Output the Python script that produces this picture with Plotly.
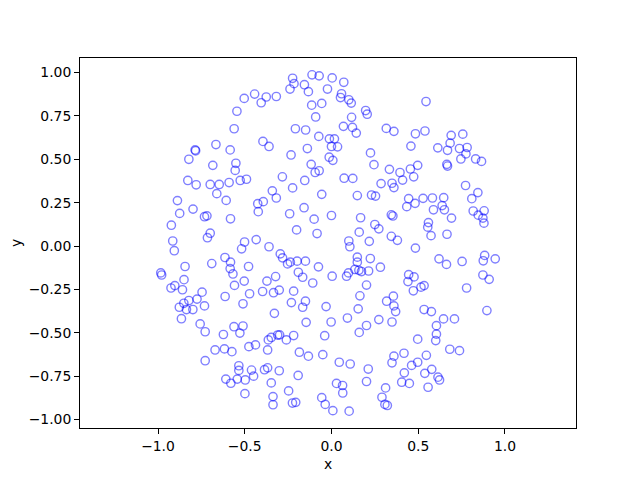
import plotly.graph_objects as go
import numpy as np

# Point positions
x_vals = [
    -0.443, -0.503, -0.405, -0.545, -0.561, -0.395, -0.666, -0.786, -0.783, -0.584,
    -0.822, -0.551, -0.684, -0.555, -0.828, -0.780, -0.699, -0.647, -0.590, -0.526,
    -0.490, -0.661, -0.888, -0.607, -0.425, -0.393, -0.422, -0.875, -0.798, -0.732,
    -0.718, -0.582, -0.923, -0.699, -0.715, -0.915, -0.906, -0.501, -0.518, -0.434,
    -0.614, -0.582, -0.690, -0.844, -0.584, -0.478, -0.568, -0.984, -0.979, -0.850,
    -0.503, -0.903, -0.925, -0.859, -0.559, -0.397, -0.746, -0.472, -0.613, -0.775,
    -0.822, -0.851, -0.732, -0.510, -0.877, -0.836, -0.799, -0.865, -0.757, -0.728,
    -0.623, -0.562, -0.510, -0.528, -0.476, -0.438, -0.671, -0.617, -0.574, -0.728,
    -0.534, -0.534, -0.461, -0.449, -0.609, -0.580, -0.543, -0.497, -0.499,
    -0.224, -0.216, -0.112, -0.071, 0.004, 0.071, -0.156, -0.239, -0.133, -0.023,
    0.058, 0.052, 0.100, 0.114, -0.376, -0.318, -0.114, -0.056, -0.091, 0.116,
    0.197, 0.206, -0.208, -0.149, 0.069, 0.121, 0.143, -0.073, -0.012, 0.017,
    -0.360, -0.139, 0.000, 0.035, -0.233, -0.013, 0.008, 0.225, 0.245, -0.117,
    -0.094, -0.071, -0.283, -0.154, 0.073, 0.123, 0.286,
    -0.341, -0.224, -0.056, 0.149, 0.231, 0.254, -0.318, -0.241, -0.158, 0.000,
    -0.100, 0.168, 0.250, 0.273, -0.201, -0.083, 0.160, -0.360, 0.100, 0.106,
    0.218, -0.295, -0.282, -0.253, -0.237, -0.198, -0.150, -0.075, 0.149, 0.149,
    0.224, 0.282, 0.135, 0.158, 0.173, 0.214, 0.087, 0.098, 0.004, -0.191,
    -0.166, -0.322, -0.372, -0.108, 0.202, -0.334, -0.301, -0.218, 0.164, -0.231,
    -0.150, -0.166, -0.031, 0.154,
    -0.329, -0.146, -0.002, 0.092, 0.202, 0.160, 0.273, -0.364, -0.347, -0.310,
    -0.299, -0.260, -0.218, -0.039, -0.368, -0.185, -0.133, -0.050, 0.045, 0.108,
    0.212, -0.386, -0.368, -0.301, -0.192, -0.347, 0.202, 0.029, 0.064, 0.065,
    -0.247, -0.337, -0.337, -0.225, -0.206, -0.056, -0.036, 0.008, 0.102, 0.291,
    0.545, 0.316, 0.360, 0.484, 0.539, 0.690, 0.757, 0.458, 0.613, 0.669,
    0.684, 0.738, 0.782, 0.775, 0.746, 0.831, 0.865, 0.665, 0.669, 0.334,
    0.395, 0.455, 0.497, 0.474, 0.410, 0.349,
    0.360, 0.773, 0.844, 0.445, 0.434, 0.482, 0.528, 0.582, 0.647, 0.638,
    0.651, 0.588, 0.809, 0.817, 0.846, 0.880, 0.873, 0.879, 0.692, 0.345,
    0.354, 0.559, 0.555, 0.574, 0.666, 0.345, 0.380, 0.484, 0.620, 0.663,
    0.753, 0.883, 0.875, 0.944, 0.445, 0.476, 0.441, 0.873, 0.909, 0.534,
    0.516, 0.472, 0.779, 0.357, 0.318, 0.360,
    0.370, 0.534, 0.576, 0.896, 0.349, 0.646, 0.709, 0.605, 0.605, 0.601,
    0.497, 0.682, 0.738, 0.360, 0.349, 0.418, 0.547, 0.497, 0.462, 0.578,
    0.538, 0.420, 0.614, 0.623, 0.405, 0.449, 0.557, 0.312, 0.308, 0.322,
]

y_vals = [
    0.876, 0.851, 0.826, 0.777, 0.676, 0.603, 0.585, 0.554, 0.549, 0.554,
    0.500, 0.477, 0.465, 0.436, 0.378, 0.353, 0.355, 0.355, 0.366, 0.378,
    0.385, 0.302, 0.262, 0.263, 0.244, 0.256, 0.198, 0.188, 0.213, 0.169,
    0.174, 0.157, 0.120, 0.074, 0.048, 0.029, -0.027, 0.023, -0.016, 0.037,
    -0.066, -0.093, -0.101, -0.118, -0.130, -0.118, -0.161, -0.155, -0.167, -0.194,
    -0.202, -0.228, -0.242, -0.252, -0.227, -0.262, -0.266, -0.275, -0.291, -0.306,
    -0.314, -0.330, -0.345, -0.333, -0.353, -0.366, -0.366, -0.419, -0.449, -0.494,
    -0.510, -0.465, -0.461, -0.502, -0.580, -0.570, -0.599, -0.593, -0.609, -0.661,
    -0.690, -0.717, -0.715, -0.750, -0.767, -0.791, -0.767, -0.772, -0.851,
    0.967, 0.936, 0.987, 0.981, 0.969, 0.944, 0.930, 0.905, 0.890, 0.905,
    0.878, 0.856, 0.843, 0.824, 0.859, 0.862, 0.812, 0.822, 0.744, 0.742,
    0.781, 0.760, 0.676, 0.669, 0.690, 0.684, 0.651, 0.632, 0.618, 0.618,
    0.574, 0.562, 0.574, 0.572, 0.525, 0.512, 0.494, 0.537, 0.469, 0.471,
    0.424, 0.434, 0.399, 0.378, 0.391, 0.390, 0.360,
    0.318, 0.335, 0.298, 0.291, 0.294, 0.288, 0.277, 0.186, 0.221, 0.176,
    0.155, 0.163, 0.124, 0.099, 0.093, 0.072, 0.080, -0.004, 0.029, -0.004,
    0.027, -0.045, -0.068, -0.103, -0.093, -0.087, -0.087, -0.120, -0.064, -0.093,
    -0.072, -0.122, -0.135, -0.140, -0.147, -0.144, -0.174, -0.155, -0.174, -0.151,
    -0.180, -0.176, -0.202, -0.213, -0.225, -0.269, -0.254, -0.260, -0.287, -0.326,
    -0.318, -0.353, -0.349, -0.362,
    -0.388, -0.440, -0.438, -0.415, -0.458, -0.498, -0.424, -0.541, -0.527, -0.513,
    -0.512, -0.541, -0.516, -0.517, -0.599, -0.612, -0.635, -0.626, -0.670, -0.680,
    -0.709, -0.713, -0.702, -0.719, -0.746, -0.789, -0.781, -0.792, -0.804, -0.847,
    -0.835, -0.868, -0.915, -0.905, -0.901, -0.874, -0.913, -0.949, -0.952, -0.872,
    0.833, 0.678, 0.661, 0.647, 0.663, 0.638, 0.645, 0.576, 0.566, 0.552,
    0.593, 0.562, 0.568, 0.531, 0.502, 0.502, 0.488, 0.471, 0.461, 0.442,
    0.424, 0.444, 0.465, 0.399, 0.380, 0.362,
    0.337, 0.349, 0.308, 0.273, 0.227, 0.246, 0.275, 0.277, 0.279, 0.233,
    0.209, 0.209, 0.273, 0.202, 0.178, 0.203, 0.161, 0.132, 0.161, 0.180,
    0.173, 0.135, 0.109, 0.060, 0.068, 0.056, 0.033, -0.012, -0.074, -0.106,
    -0.089, -0.054, -0.085, -0.074, -0.165, -0.178, -0.205, -0.167, -0.192, -0.228,
    -0.237, -0.258, -0.242, -0.289, -0.318, -0.345,
    -0.378, -0.366, -0.378, -0.372, -0.438, -0.420, -0.420, -0.459, -0.508, -0.545,
    -0.537, -0.595, -0.603, -0.635, -0.673, -0.618, -0.630, -0.670, -0.688, -0.711,
    -0.734, -0.731, -0.756, -0.772, -0.785, -0.792, -0.814, -0.818, -0.913, -0.919,
]

x_ticks = [-1.0, -0.5, 0.0, 0.5, 1.0]
x_tick_text = ["\u22121.0", "\u22120.5", "0.0", "0.5", "1.0"]
y_ticks = [-1.0, -0.75, -0.5, -0.25, 0.0, 0.25, 0.5, 0.75, 1.0]
y_tick_text = ["\u22121.00", "\u22120.75", "\u22120.50", "\u22120.25", "0.00",
               "0.25", "0.50", "0.75", "1.00"]

# The page body adds an 8px offset, so the figure is a bit smaller than the window
W, H = 632, 472
ML, MR, MT, MB = 72, 64, 50, 52
plot_w = W - ML - MR
plot_h = H - MT - MB

# Auto limits with 5% margins, then equal aspect by widening x
xa, ya = np.array(x_vals), np.array(y_vals)
ypad = 0.05 * (ya.max() - ya.min())
y_range = [ya.min() - ypad, ya.max() + ypad]
xpad = 0.05 * (xa.max() - xa.min())
x_mid = (xa.min() - xpad + xa.max() + xpad) / 2
x_half = (y_range[1] - y_range[0]) * plot_w / plot_h / 2
x_range = [x_mid - x_half, x_mid + x_half]

fig = go.Figure()
fig.add_trace(go.Scatter(
    x=x_vals,
    y=y_vals,
    mode="markers",
    marker=dict(
        symbol="circle-open",
        size=8.3,
        color="rgba(0, 0, 255, 0.5)",
        line=dict(width=1.4, color="rgba(0, 0, 255, 0.5)")
    ),
    showlegend=False
))

label_font = dict(family="DejaVu Sans", size=13.9, color="black")

# Keep the margins fixed so the plot box does not move
axis_style = dict(
    automargin=False,
    showline=True,
    mirror=True,
    linecolor="black",
    linewidth=1.1,
    ticks="outside",
    ticklen=4.9,
    tickwidth=1.1,
    tickcolor="black",
    showgrid=False,
    zeroline=False,
    tickfont=label_font,
)

fig.update_layout(
    width=W,
    height=H,
    margin=dict(l=ML, r=MR, t=MT, b=MB),
    plot_bgcolor="white",
    paper_bgcolor="white",
    font=label_font,
    xaxis=dict(range=x_range, tickvals=x_ticks, ticktext=x_tick_text,
               title=dict(text="x", font=label_font, standoff=6), **axis_style),
    yaxis=dict(range=y_range, tickvals=y_ticks, ticktext=y_tick_text,
               title=dict(text="y", font=label_font, standoff=6), **axis_style),
)

fig.write_html("out.html")
